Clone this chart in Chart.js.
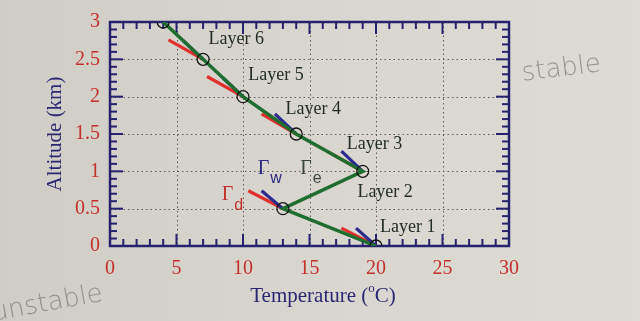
<!DOCTYPE html>
<html><head><meta charset="utf-8">
<script src="https://cdn.jsdelivr.net/npm/chart.js@4/dist/chart.umd.min.js"></script>
<style>html,body{margin:0;padding:0;background:#d8d5cf;overflow:hidden}#wrap{width:640px;height:321px;position:relative}</style>
</head><body><div id="wrap"><canvas id="c" width="640" height="321"></canvas></div>
<script>
// Environmental temperature profile (node values)
const temperature = [20, 13, 19, 14, 10, 7, 4];
const altitude = [0, 0.5, 1, 1.5, 2, 2.5, 3];
// Dry adiabatic (red) short segments: from node i up to these ends
const dryTopT = [17.4, 10.4, 16.4, 11.4, 7.3, 4.4];
const dryTopZ = [0.24, 0.74, 1.26, 1.77, 2.27, 2.76];
// Wet adiabatic (blue) short segments
const wetTopT = [18.5, 11.4, 17.4, 12.4, 8.5, 5.5];
const wetTopZ = [0.24, 0.74, 1.27, 1.77, 2.25, 2.75];
// Axis ticks
const xTicks = [0, 5, 10, 15, 20, 25, 30];
const yTicks = [0, 0.5, 1, 1.5, 2, 2.5, 3];
const yTickLabels = ['0', '0.5', '1', '1.5', '2', '2.5', '3'];
// Annotations
const layerNames = ['Layer 1', 'Layer 2', 'Layer 3', 'Layer 4', 'Layer 5', 'Layer 6'];
const layerT = [20.3, 18.6, 17.8, 13.2, 10.4, 7.4];
const layerZ = [0.245, 0.72, 1.36, 1.83, 2.29, 2.77];
const gammaSubs = ['d', 'w', 'e'];
const gammaT = [8.4, 11.1, 14.3];
const gammaZ = [0.68, 1.03, 1.03];
const gammaColors = ['#c4302b', '#2b2a7e', '#3a4638'];

const SERIF = '"Liberation Serif", "DejaVu Serif", serif';
const NAVY = '#25226e';
const RED = '#c4302b';

const datasets = [];
datasets.push({
  label: 'nodes', data: temperature.map((t, i) => ({x: t, y: altitude[i]})),
  showLine: false, pointRadius: 6, pointHoverRadius: 6, pointBorderColor: '#151515',
  pointBackgroundColor: 'rgba(0,0,0,0)', pointBorderWidth: 1.3, order: 0
});
datasets.push({
  label: 'environment', data: temperature.map((t, i) => ({x: t, y: altitude[i]})),
  showLine: true, borderColor: '#1f6d2f', borderWidth: 3.5, pointRadius: 0, order: 1
});
for (let i = 0; i < dryTopT.length; i++) {
  datasets.push({
    label: 'wet' + i, data: [{x: temperature[i], y: altitude[i]}, {x: wetTopT[i], y: wetTopZ[i]}],
    showLine: true, borderColor: '#2a2b8c', borderWidth: 3.2, pointRadius: 0, order: 2
  });
  datasets.push({
    label: 'dry' + i, data: [{x: temperature[i], y: altitude[i]}, {x: dryTopT[i], y: dryTopZ[i]}],
    showLine: true, borderColor: '#e0302c', borderWidth: 3.2, pointRadius: 0, order: 3
  });
}

const bgPlugin = {
  id: 'bg',
  beforeDraw(chart) {
    const ctx = chart.ctx;
    const g = ctx.createLinearGradient(0, 0, 640, 0);
    g.addColorStop(0, '#d0cdc7');
    g.addColorStop(0.5, '#d9d6d0');
    g.addColorStop(1, '#dedbd5');
    ctx.save(); ctx.fillStyle = g; ctx.fillRect(0, 0, chart.width, chart.height); ctx.restore();
  }
};

const framePlugin = {
  id: 'frame',
  beforeDatasetsDraw(chart) {
    const {ctx, chartArea: a, scales: {x, y}} = chart;
    ctx.save();
    // dotted grid
    ctx.strokeStyle = '#5c5c5c'; ctx.lineWidth = 1; ctx.setLineDash([1.5, 3]);
    xTicks.forEach(v => { if (v > 0 && v < 30) { const p = Math.round(x.getPixelForValue(v)) + 0.5; ctx.beginPath(); ctx.moveTo(p, a.top); ctx.lineTo(p, a.bottom); ctx.stroke(); } });
    yTicks.forEach(v => { if (v > 0 && v < 3) { const p = Math.round(y.getPixelForValue(v)) + 0.5; ctx.beginPath(); ctx.moveTo(a.left, p); ctx.lineTo(a.right, p); ctx.stroke(); } });
    ctx.setLineDash([]);
    // tick marks (inward)
    ctx.strokeStyle = NAVY; ctx.lineWidth = 2;
    for (let v = 0; v <= 30; v += 1) {
      const p = x.getPixelForValue(v); const L = (v % 5 === 0) ? 12 : 7;
      ctx.beginPath(); ctx.moveTo(p, a.bottom); ctx.lineTo(p, a.bottom - L); ctx.stroke();
      ctx.beginPath(); ctx.moveTo(p, a.top); ctx.lineTo(p, a.top + L); ctx.stroke();
    }
    for (let k = 0; k <= 30; k += 1) {
      const v = k / 10; const p = y.getPixelForValue(v); const L = (k % 5 === 0) ? 13 : 7;
      ctx.beginPath(); ctx.moveTo(a.left, p); ctx.lineTo(a.left + L, p); ctx.stroke();
      ctx.beginPath(); ctx.moveTo(a.right, p); ctx.lineTo(a.right - L, p); ctx.stroke();
    }
    // frame
    ctx.lineWidth = 2.5;
    ctx.strokeRect(a.left, a.top, a.right - a.left, a.bottom - a.top);
    ctx.restore();
  },
  afterDraw(chart) {
    const {ctx, chartArea: a, scales: {x, y}} = chart;
    ctx.save();
    // layer labels
    ctx.font = '18px ' + SERIF; ctx.fillStyle = '#222e22'; ctx.textBaseline = 'middle'; ctx.textAlign = 'left';
    layerNames.forEach((n, i) => ctx.fillText(n, x.getPixelForValue(layerT[i]), y.getPixelForValue(layerZ[i])));
    // Gamma labels
    gammaSubs.forEach((s, i) => {
      const px = x.getPixelForValue(gammaT[i]), py = y.getPixelForValue(gammaZ[i]);
      ctx.fillStyle = gammaColors[i];
      ctx.font = '20px ' + SERIF; ctx.textBaseline = 'middle';
      ctx.fillText('\u0393', px, py);
      const w = ctx.measureText('\u0393').width;
      ctx.font = '16px "Liberation Sans", "DejaVu Sans", sans-serif';
      ctx.fillText(s, px + w + 1, py + 10);
    });
    // axis titles
    ctx.fillStyle = '#2a2870'; ctx.textBaseline = 'middle';
    ctx.font = '21px ' + SERIF;
    ctx.save(); ctx.translate(55, (a.top + a.bottom) / 2); ctx.rotate(-Math.PI / 2);
    ctx.textAlign = 'center'; ctx.fillText('Altitude (km)', 0, 0); ctx.restore();
    const p1 = 'Temperature (', p2 = 'o', p3 = 'C)';
    ctx.font = '21px ' + SERIF; const w1 = ctx.measureText(p1).width, w3 = ctx.measureText(p3).width;
    ctx.font = '13px ' + SERIF; const w2 = ctx.measureText(p2).width;
    let sx = 323 - (w1 + w2 + w3) / 2; const ty = 296;
    ctx.textAlign = 'left';
    ctx.font = '21px ' + SERIF; ctx.fillText(p1, sx, ty); sx += w1;
    ctx.font = '13px ' + SERIF; ctx.fillText(p2, sx, ty - 7); sx += w2;
    ctx.font = '21px ' + SERIF; ctx.fillText(p3, sx, ty);
    // pencil notes
    ctx.fillStyle = 'rgba(125,125,122,0.75)';
    ctx.font = '200 26px "DejaVu Sans", sans-serif';
    ctx.save(); ctx.translate(522, 74); ctx.rotate(-0.12); ctx.fillText('stable', 0, 0); ctx.restore();
    ctx.save(); ctx.translate(-8, 314); ctx.rotate(-0.18); ctx.fillText('unstable', 0, 0); ctx.restore();
    ctx.restore();
  }
};

new Chart(document.getElementById('c'), {
  type: 'scatter',
  data: {datasets},
  options: {
    responsive: false, devicePixelRatio: 1, animation: false,
    layout: {padding: {top: 12, right: 131, left: 0, bottom: 0}},
    plugins: {legend: {display: false}, tooltip: {enabled: false}},
    scales: {
      x: {
        type: 'linear', min: 0, max: 30,
        afterBuildTicks: s => { s.ticks = xTicks.map(v => ({value: v})); },
        afterFit: s => { s.height = 75; },
        ticks: {color: RED, font: {family: SERIF, size: 20}, padding: 11, maxRotation: 0,
          callback: (v) => String(v)},
        grid: {display: false, drawTicks: false}, border: {display: false}
      },
      y: {
        type: 'linear', min: 0, max: 3,
        afterBuildTicks: s => { s.ticks = yTicks.map(v => ({value: v})); },
        afterFit: s => { s.width = 110; },
        ticks: {color: RED, font: {family: SERIF, size: 20}, padding: 10,
          callback: (v) => yTickLabels[yTicks.indexOf(v)] ?? String(v)},
        grid: {display: false, drawTicks: false}, border: {display: false}
      }
    }
  },
  plugins: [bgPlugin, framePlugin]
});
</script></body></html>
